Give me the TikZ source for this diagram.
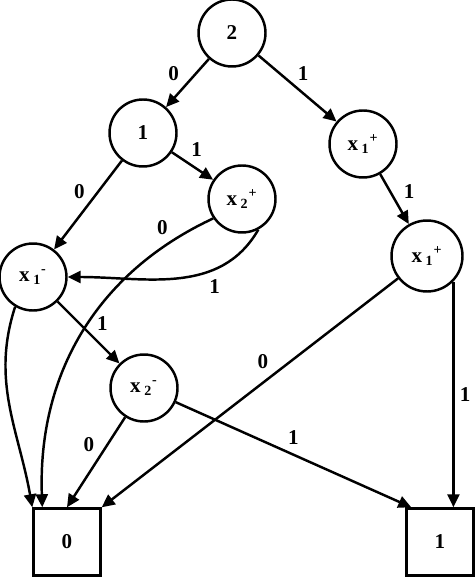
\documentclass[tikz,border=0pt]{standalone}
\usepackage{fontspec}
\setmainfont{Liberation Serif}
\usetikzlibrary{arrows.meta, positioning}

\begin{document}
\begin{tikzpicture}[
  x=0.02cm, y=-0.02cm,
  state/.style={circle, draw, line width=1.4pt, minimum size=1.34cm,
                inner sep=0pt, font=\fontsize{12}{14}\selectfont\bfseries},
  leaf/.style={rectangle, draw, line width=1.4pt, minimum size=1.34cm,
               inner sep=0pt, font=\fontsize{12}{14}\selectfont\bfseries},
  lbl/.style={font=\fontsize{12}{14}\selectfont\bfseries, inner sep=1pt},
  arr/.style={-{Triangle[length=0.26cm, width=0.24cm]}, line width=1.4pt}
]
\useasboundingbox (0,0) rectangle (474,577);

\node[state] (root)  at (232,33)  {2};
\node[state] (sub)   at (143,133) {1};
\node[state] (x1pa)  at (363,144) {x\,\textsubscript{1}\textsuperscript{+}};
\node[state] (x2p)   at (242,199) {x\,\textsubscript{2}\textsuperscript{+}};
\node[state, minimum size=1.42cm] (x1pb) at (427,256) {x\,\textsubscript{1}\textsuperscript{+}};
\node[state] (x1m)   at (33,277)  {x\,\textsubscript{1}\textsuperscript{-}};
\node[state] (x2m)   at (144,388) {x\,\textsubscript{2}\textsuperscript{-}};
\node[leaf]  (leaf0) at (67,542)  {0};
\node[leaf]  (leaf1) at (440,542) {1};

\draw[arr] (root) -- node[lbl, pos=0.3, left=8pt]{0} (sub);
\draw[arr] (root) -- node[lbl, pos=0.45, above right=1pt]{1} (x1pa);
\draw[arr] (sub)  -- node[lbl, pos=0.35, left=6pt]{0} (x1m);
\draw[arr] (sub)  -- node[lbl, pos=0.6, above=5pt]{1} (x2p);
\draw[arr] (x1pa) -- node[lbl, pos=0.35, right=6pt]{1} (x1pb);
\draw[arr] (x2p.214) to[out=205, in=92]
  node[lbl, pos=0.12, above left=2pt]{0} ([xshift=0.2cm]leaf0.north west);
\draw[arr] (x2p.-62) to[out=240, in=0]
  node[lbl, pos=0.3, below=4pt]{1} (x1m.east);
\draw[arr] (x1m.239) to[out=252, in=100] (leaf0.north west);
\draw[arr] (x1m) -- node[lbl, pos=0.55, above right=2pt]{1} (x2m);
\draw[arr] (x2m) -- node[lbl, pos=0.3, left=6pt]{0} (leaf0.north);
\draw[arr] (x2m) -- node[lbl, pos=0.5, above=4pt]{1} ([xshift=0.12cm]leaf1.north west);
\draw[arr] (x1pb) -- node[lbl, pos=0.42, above left=2pt]{0} (leaf0.north east);
\draw[arr] (x1pb.-44) -- node[lbl, pos=0.5, right=2pt]{1} (x1pb.-44 |- leaf1.north);
\end{tikzpicture}
\end{document}
